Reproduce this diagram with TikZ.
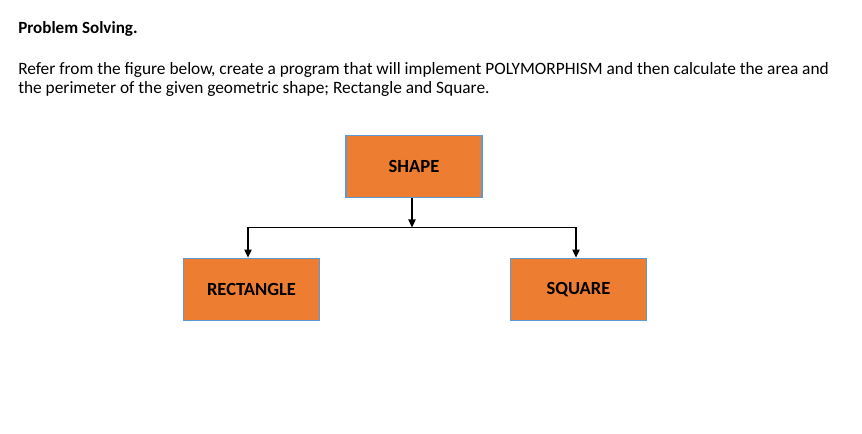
\documentclass[tikz,border=0pt]{standalone}
\usepackage{fontspec}
\setmainfont{Carlito}
\usetikzlibrary{arrows.meta}
\definecolor{boxfill}{HTML}{ED7D31}
\definecolor{boxline}{HTML}{5B9BD5}
\begin{document}
\begin{tikzpicture}[x=0.75pt,y=-0.75pt,
  box/.style={draw=boxline,line width=0.9pt,fill=boxfill,minimum width=102pt,minimum height=47pt,inner sep=0pt,font=\fontsize{13.9}{15}\selectfont\bfseries},
  body/.style={anchor=base west,inner sep=0pt,font=\fontsize{13.0}{15}\selectfont},
  arr/.style={line width=0.8pt,-{Triangle[width=5.5pt,length=6pt]}},
  ln/.style={line width=0.8pt}]
\useasboundingbox[fill=white] (0,0) rectangle (862,434);
\node[body,font=\fontsize{12.8}{15}\selectfont\bfseries] (title) at (18,33.3) {Problem Solving.};
\node[body] (l1) at (18,74.3) {Refer from the figure below, create a program that will implement POLYMORPHISM and then calculate the area and};
\node[body] (l2) at (18,93.3) {the perimeter of the given geometric shape; Rectangle and Square.};
\node[box] (shape) at (414,166.5) {SHAPE};
\node[box] (rect) at (251.5,289.5) {RECTANGLE};
\node[box] (sq) at (578.5,289.5) {SQUARE};
\coordinate (j) at (412,227.5);
\coordinate (jl) at (248,227.5);
\coordinate (jr) at (576,227.5);
\draw[arr] (shape.south -| j) -- (j);
\draw[ln] (jl) -- (jr);
\draw[arr] (jl) -- (jl |- rect.north);
\draw[arr] (jr) -- (jr |- sq.north);
\end{tikzpicture}
\end{document}
